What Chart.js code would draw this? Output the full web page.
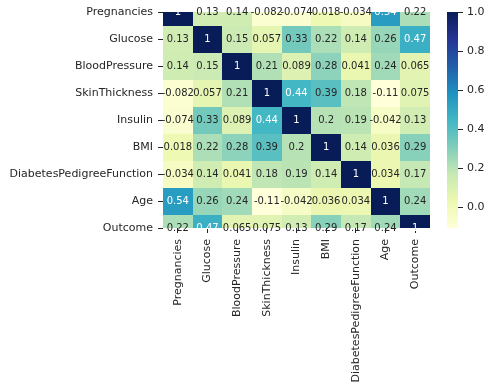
<!DOCTYPE html>
<html>
<head>
<meta charset="utf-8">
<script src="https://cdn.jsdelivr.net/npm/chart.js@4.4.1/dist/chart.umd.min.js"></script>
<style>
  html, body { margin: 0; padding: 0; background: #fff; }
  #wrap { width: 492px; height: 392px; }
</style>
</head>
<body>
<div id="wrap"><canvas id="heatmap" width="492" height="392"></canvas></div>
<script>
// correlation matrix, one row per feature
const features = ["Pregnancies", "Glucose", "BloodPressure", "SkinThickness", "Insulin",
  "BMI", "DiabetesPedigreeFunction", "Age", "Outcome"];
const pregnancies   = [1, 0.13, 0.14, -0.082, -0.074, 0.018, -0.034, 0.54, 0.22];
const glucose       = [0.13, 1, 0.15, 0.057, 0.33, 0.22, 0.14, 0.26, 0.47];
const bloodPressure = [0.14, 0.15, 1, 0.21, 0.089, 0.28, 0.041, 0.24, 0.065];
const skinThickness = [-0.082, 0.057, 0.21, 1, 0.44, 0.39, 0.18, -0.11, 0.075];
const insulin       = [-0.074, 0.33, 0.089, 0.44, 1, 0.2, 0.19, -0.042, 0.13];
const bmi           = [0.018, 0.22, 0.28, 0.39, 0.2, 1, 0.14, 0.036, 0.29];
const pedigree      = [-0.034, 0.14, 0.041, 0.18, 0.19, 0.14, 1, 0.034, 0.17];
const age           = [0.54, 0.26, 0.24, -0.11, -0.042, 0.036, 0.034, 1, 0.24];
const outcome       = [0.22, 0.47, 0.065, 0.075, 0.13, 0.29, 0.17, 0.24, 1];
const colorbarTicks = [0, 0.2, 0.4, 0.6, 0.8, 1.0];

const matrix = [pregnancies, glucose, bloodPressure, skinThickness, insulin,
  bmi, pedigree, age, outcome];

const vmin = Math.min(...matrix.flat());
const vmax = 1;

// YlGnBu (colorbrewer, as in matplotlib)
const ylgnbu = [
  [255, 255, 217], [237, 248, 177], [199, 233, 180], [127, 205, 187], [65, 182, 196],
  [29, 145, 192], [34, 94, 168], [37, 52, 148], [8, 29, 88]
];

function cmap(t) {
  t = Math.max(0, Math.min(1, t));
  const p = t * (ylgnbu.length - 1);
  const i = Math.min(Math.floor(p), ylgnbu.length - 2);
  const f = p - i;
  return ylgnbu[i].map((c, k) => Math.round(c + (ylgnbu[i + 1][k] - c) * f));
}

function colorFor(v) {
  const c = cmap((v - vmin) / (vmax - vmin));
  return `rgb(${c[0]},${c[1]},${c[2]})`;
}

function textColorFor(v) {
  const c = cmap((v - vmin) / (vmax - vmin)).map((x) => {
    x = x / 255;
    return x <= 0.03928 ? x / 12.92 : Math.pow((x + 0.055) / 1.055, 2.4);
  });
  const lum = 0.2126 * c[0] + 0.7152 * c[1] + 0.0722 * c[2];
  return lum > 0.408 ? "#262626" : "#ffffff";
}

const cells = [];
matrix.forEach((row, r) => {
  row.forEach((v, c) => cells.push({ x: c + 0.5, y: r + 0.5, v: v }));
});

const FONT = "'DejaVu Sans', sans-serif";
const TEXT = "#262626";

const heatPlugin = {
  id: "heat",
  beforeDatasetsDraw(chart) {
    const { ctx, chartArea } = chart;
    const xs = chart.scales.x, ys = chart.scales.y;

    ctx.save();
    ctx.beginPath();
    ctx.rect(chartArea.left, chartArea.top, chartArea.width, chartArea.height);
    ctx.clip();
    cells.forEach((cell) => {
      const x0 = Math.round(xs.getPixelForValue(cell.x - 0.5));
      const x1 = Math.round(xs.getPixelForValue(cell.x + 0.5));
      const y0 = Math.round(ys.getPixelForValue(cell.y - 0.5));
      const y1 = Math.round(ys.getPixelForValue(cell.y + 0.5));
      ctx.fillStyle = colorFor(cell.v);
      ctx.fillRect(Math.min(x0, x1), Math.min(y0, y1), Math.abs(x1 - x0), Math.abs(y1 - y0));
    });
    ctx.restore();

    // annotations (not clipped, like matplotlib)
    ctx.save();
    ctx.font = "10px " + FONT;
    ctx.textAlign = "center";
    ctx.textBaseline = "middle";
    cells.forEach((cell) => {
      const px = xs.getPixelForValue(cell.x);
      const py = ys.getPixelForValue(cell.y);
      ctx.fillStyle = textColorFor(cell.v);
      ctx.fillText(String(cell.v), px, py + 0.5);
    });
    ctx.restore();
  },
  afterDraw(chart) {
    const { ctx } = chart;
    const cb = chart.scales.cb;
    const left = 447, w = 11;
    const top = cb.getPixelForValue(vmax), bottom = cb.getPixelForValue(vmin);

    ctx.save();
    const grad = ctx.createLinearGradient(0, bottom, 0, top);
    ylgnbu.forEach((c, i) => {
      grad.addColorStop(i / (ylgnbu.length - 1), `rgb(${c[0]},${c[1]},${c[2]})`);
    });
    ctx.fillStyle = grad;
    ctx.fillRect(left, top, w, bottom - top);

    ctx.strokeStyle = TEXT;
    ctx.lineWidth = 1;
    ctx.fillStyle = TEXT;
    ctx.font = "11px " + FONT;
    ctx.textAlign = "left";
    ctx.textBaseline = "middle";
    colorbarTicks.forEach((t) => {
      const py = Math.round(cb.getPixelForValue(t)) + 0.5;
      ctx.beginPath();
      ctx.moveTo(left + w, py);
      ctx.lineTo(left + w + 5, py);
      ctx.stroke();
      ctx.fillText(t.toFixed(1), left + w + 9, py);
    });
    ctx.restore();
  }
};

const tickFont = { family: FONT, size: 11 };

new Chart(document.getElementById("heatmap"), {
  type: "scatter",
  data: {
    datasets: [{
      data: cells,
      pointRadius: 0,
      pointHoverRadius: 0
    }]
  },
  options: {
    responsive: false,
    animation: false,
    events: [],
    layout: { padding: { top: 12, right: 62, left: 0, bottom: 0 } },
    plugins: {
      legend: { display: false },
      tooltip: { enabled: false }
    },
    scales: {
      x: {
        type: "linear",
        position: "bottom",
        min: 0,
        max: features.length,
        afterBuildTicks: (s) => { s.ticks = features.map((f, i) => ({ value: i + 0.5 })); },
        afterFit: (s) => { s.height = 164; },
        ticks: {
          autoSkip: false,
          minRotation: 90,
          maxRotation: 90,
          padding: 6,
          color: TEXT,
          font: tickFont,
          callback: (v, i) => features[i]
        },
        grid: { drawOnChartArea: false, tickLength: 5, tickColor: TEXT, tickWidth: 1 },
        border: { display: false }
      },
      y: {
        type: "linear",
        position: "left",
        reverse: true,
        min: 0.5,
        max: features.length - 0.5,
        afterBuildTicks: (s) => { s.ticks = features.map((f, i) => ({ value: i + 0.5 })); },
        afterFit: (s) => { s.width = 163; },
        ticks: {
          autoSkip: false,
          padding: 5,
          color: TEXT,
          font: tickFont,
          callback: (v, i) => features[i]
        },
        grid: { drawOnChartArea: false, tickLength: 5, tickColor: TEXT, tickWidth: 1 },
        border: { display: false }
      },
      cb: {
        type: "linear",
        axis: "y",
        position: "right",
        display: false,
        min: vmin,
        max: vmax
      }
    }
  },
  plugins: [heatPlugin]
});
</script>
</body>
</html>
